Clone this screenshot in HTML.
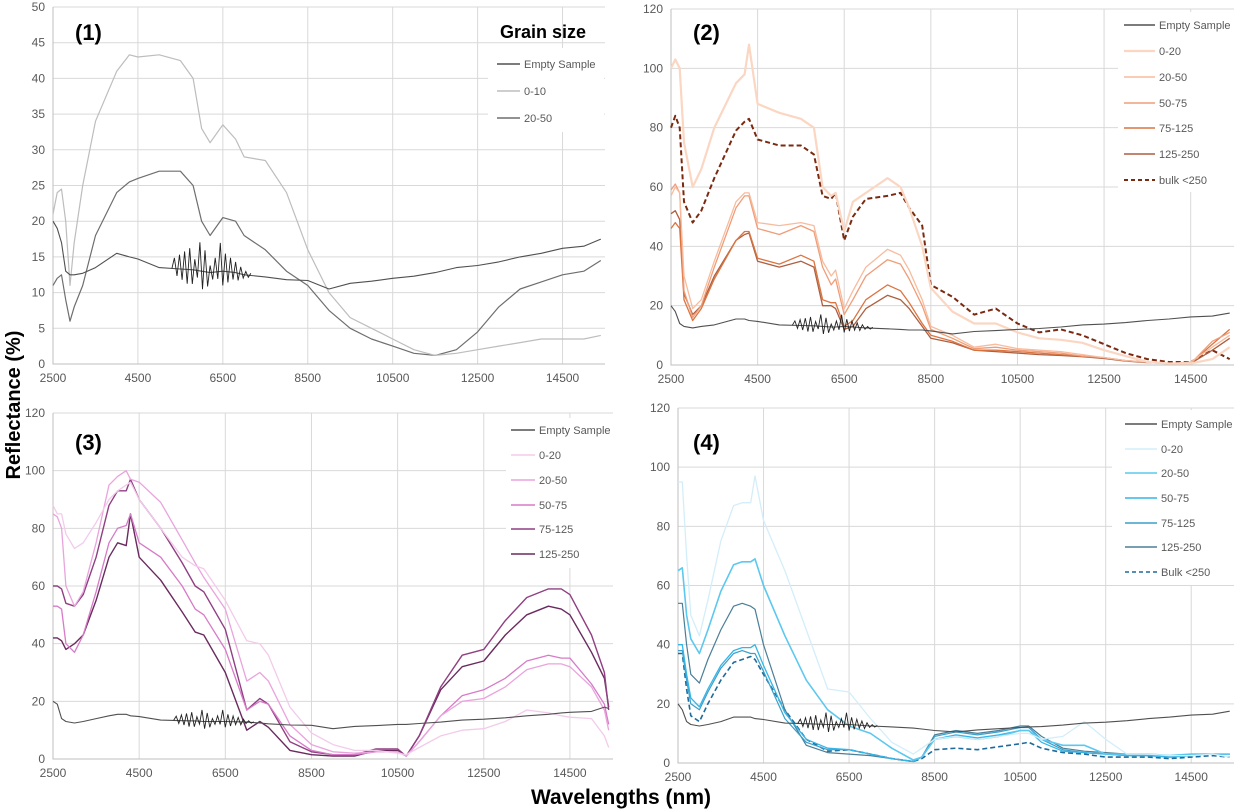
<!DOCTYPE html>
<html><head><meta charset="utf-8"><style>
html,body{margin:0;padding:0;background:#fff;width:1242px;height:810px;overflow:hidden}
svg{display:block;font-family:"Liberation Sans",sans-serif}
</style></head><body>
<svg id="chart" width="1242" height="810" viewBox="0 0 1242 810">
<text x="0" y="0" transform="translate(20,405) rotate(-90)" text-anchor="middle" font-size="20" font-weight="bold" fill="#000">Reflectance (%)</text>
<text x="621" y="804" text-anchor="middle" font-size="21" font-weight="bold" fill="#000">Wavelengths (nm)</text>
</svg>
<script>
// ---------- DATA ----------
const xTicks=[2500,4500,6500,8500,10500,12500,14500];
const noiseOffsetX=[5300,5360,5420,5480,5540,5600,5660,5720,5780,5840,5900,5960,6020,6080,6140,6200,6260,6320,6380,6440,6500,6560,6620,6680,6740,6800,6860,6920,6980,7040,7100,7160];
const noiseOffset=[0,1.5,-1,2,-1.5,2.5,-2,3,-2,1.5,-1,4,-2.5,3,-2,1,-1,2,-1,4,-2,2.5,-1.5,2,-1,1.5,-1,1,-0.5,0.5,-0.3,0.3];

const p1X=[2500,2600,2700,2800,2900,3000,3200,3500,4000,4300,4500,5000,5500,5800,6000,6200,6500,6800,7000,7500,8000,8500,9000,9500,10000,10500,11000,11500,12000,12500,13000,13500,14000,14500,15000,15400];
const p1Empty=[20,19,17,13,12.5,12.5,12.7,13.5,15.5,15,14.7,13.5,13.3,13.2,13,12.8,13,12.8,12.5,12.2,11.8,11.7,10.5,11.3,11.6,12,12.3,12.8,13.5,13.8,14.3,15,15.5,16.2,16.5,17.5];
const p1G0_10=[21,24,24.5,20,11,17,25,34,41,43.3,43,43.3,42.5,40,33,31,33.5,31.5,29,28.5,24,16,10,6.5,5,3.5,2,1.2,1.5,2,2.5,3,3.5,3.5,3.5,4];
const p1G20_50=[11,12,12.5,9,6,8,11,18,24,25.5,26,27,27,25,20,18,20.5,20,18,16,13,11,7.5,5,3.5,2.5,1.5,1.2,2,4.5,8,10.5,11.5,12.5,13,14.5];

const p2X=[2500,2600,2700,2800,3000,3200,3500,4000,4200,4300,4500,5000,5500,5800,6000,6200,6300,6500,6700,7000,7500,7800,8000,8300,8500,9000,9500,10000,10500,11000,11500,12000,12500,13000,13500,14000,14500,15000,15400];
const p2Empty=[20,18,14,13,12.5,13,13.5,15.5,15.5,15,14.7,13.5,13.3,13.2,13,12.8,12.8,13,12.8,12.5,12.2,12,11.8,11.8,11.5,10.5,11.3,11.6,12,12.3,12.8,13.5,13.8,14.3,15,15.5,16.2,16.5,17.5];
const p2G0_20=[100,103,100,75,60,66,80,95,98,108,88,85,83,80,60,57,58,45,55,58,63,60,53,40,26,18,14,14,11,9,8.5,7.5,5,3,1,0.5,0.5,2,6];
const p2G20_50=[57,60,58,30,19,22,35,55,58,58,48,47,48,47,35,30,32,19,25,33,39,37,32,22,13,10,6,7,5.5,5,4.5,3.5,2.5,1.5,1,0.5,1,6,10];
const p2G50_75=[59,61,58,25,16,20,33,53,57,57,46,44,47,45,33,27,29,17,22,30,35.5,34,29,20,12,9,5.5,6,5,4.5,4,3,2.5,1.5,1,0.5,0.5,8,11];
const p2G75_125=[46,48,46,22,15,19,29,42,45,45,36,34,37,35,22,21,21,13,15,22,27,25,21,14,10,8,5,5,4.5,4,3.5,3,2.5,1.5,1,0.5,0.5,7,12];
const p2G125_250=[51,52,49,24,17,20,30,42,44,44.5,35,33,35,33,20,20,19,12,13,19,23.5,22,19,13,9,7.5,5,4.5,4,3.5,3.2,2.8,2.2,1.3,0.8,0.5,0.5,5,9];
const p2Bulk=[80,84,80,55,48,52,63,79,82,83,76,74,74,71,57,56,58,42,50,56,57,58,53,47,27,23,17,19,14,11,12,10,7,4,2,1,1,5,2];

const p3X=[2500,2600,2700,2800,3000,3200,3500,3800,4000,4200,4300,4500,5000,5500,5800,6000,6500,7000,7300,7500,8000,8500,9000,9500,10000,10500,10700,11000,11500,12000,12500,13000,13500,14000,14300,14500,15000,15300,15400];
const p3Empty=[20,19,14,13,12.5,13,14,15,15.5,15.5,15,14.7,13.5,13.3,13.2,13,13,12.8,12.5,12.2,11.8,11.7,10.5,11.3,11.6,12,12,12.3,12.8,13.5,13.8,14.3,15,15.5,16,16.2,16.5,18,17.5];
const p3G0_20=[88,85,85,78,73,75,82,90,93,95,96,90,80,70,67,66,55,41,40,36,18,9,5,3,3,2,1.5,4,8,10,10.5,13,17,16,15,14.5,14,8,4];
const p3G20_50=[85,84,80,60,53,58,75,95,98,100,97,96,89,76,68,63,52,27,30,27,12,5,2.5,2,2.5,2.5,1,6,15,20,21,25,31,33,33,32,25,17,10];
const p3G50_75=[53,53,52,40,37,43,58,75,80,81,85,75,70,60,52,50,38,17,20,19,8,3,1.5,1.5,2.5,2.5,1,6,15,22,24,28,34,36,35,35,26,19,12];
const p3G75_125=[60,60,59,54,53,57,70,88,93,93,97,90,80,68,60,58,45,17,21,19,6,2.5,1.5,1.5,3.5,3.5,1,8,25,36,38,48,56,59,59,57,43,30,17];
const p3G125_250=[42,42,41,38,40,43,55,70,75,74,85,70,62,51,44,43,30,10,13,11,3,1.5,1,1,3,3,1,8,24,32,34,43,50,53,52,50,37,28,18];

const p4X=[2500,2600,2700,2800,3000,3200,3500,3800,4000,4200,4300,4500,5000,5500,6000,6500,7000,7500,8000,8200,8500,9000,9500,10000,10500,10700,11000,11500,12000,12500,13000,13500,14000,14500,15000,15400];
const p4Empty=[20,18,14,13,12.5,13,14,15.5,15.5,15.5,15,14.7,13.5,13.3,13,13,12.5,12.2,11.8,11.5,11,10.5,11.2,11.6,12,12.2,12.3,12.8,13.5,13.8,14.3,15,15.5,16.2,16.5,17.5];
const p4G0_20=[95,95,70,50,43,55,75,87,88,88,97,82,65,45,25,24,15,7,3,5,8,9,8,9,10,10,8,9,14,8,3,3,2.5,2.5,3,2];
const p4G20_50=[65,66,50,42,37,45,58,67,68,68,69,60,43,28,18,12.5,10,5,1,2,8,9,8,9,11,11,8,6,6,3,3,3,2.5,3,3,3];
const p4G50_75=[40,40,30,22,19,25,33,38,39,39,40,33,17,8,5,4.5,3,1.5,0.5,2,8,9.5,8.5,9.5,11,11,7,4,3.5,3,2.5,2.5,2,2.5,3,3];
const p4G75_125=[38,38,28,20,18,24,32,37,38,37,37,31,15,7,4.5,4.5,3,1.5,0.5,2,9,10.5,9.5,10.5,12,12,8,4.5,3.5,3,2.5,2.5,2,2.5,3,3];
const p4G125_250=[54,54,40,30,27,35,45,53,54,53,52,40,18,6,3.5,3,2.5,1.5,0.5,2,9.5,11,10,11,12.5,12.5,9,5,4,3.5,3,2.5,2.5,2.5,3,3];
const p4Bulk=[37,37,25,16,14,20,28,34,35,36,35,30,18,8,4,4.5,3,1.5,0.5,1.5,4.5,5,4.5,5.5,6.5,7,5,3.5,3,2,2,2,1.5,2,2.5,2];

// ---------- RENDER ----------
const svg=document.getElementById('chart');
const NS='http://www.w3.org/2000/svg';
function mk(tag,attrs,parent){const e=document.createElementNS(NS,tag);for(const k in attrs)e.setAttribute(k,attrs[k]);(parent||svg).appendChild(e);return e;}
function interp(xs,ys,x){for(let i=0;i<xs.length-1;i++){if(x>=xs[i]&&x<=xs[i+1]){const t=(x-xs[i])/(xs[i+1]-xs[i]);return ys[i]+t*(ys[i+1]-ys[i]);}}return ys[ys.length-1];}

const panels=[
 {id:'1',L:53,R:605,T:7,B:364,ymax:50,ystep:5,X:p1X,label:[75,40],title:true,
  leg:{box:[488,48,116,84],lx1:497,lx2:520,tx:524,ys:[64,91,118]},
  series:[
   {n:'Empty Sample',y:p1Empty,c:'#505050',w:1.1,empty:true},
   {n:'0-10',y:p1G0_10,c:'#bdbdbd',w:1.2},
   {n:'20-50',y:p1G20_50,c:'#6e6e6e',w:1.2}]},
 {id:'2',L:671,R:1234,T:9,B:365,ymax:120,ystep:20,X:p2X,label:[693,40],
  leg:{box:[1118,12,120,180],lx1:1124,lx2:1155,tx:1159,ys:[25,51,77,103,128,154,180]},
  series:[
   {n:'Empty Sample',y:p2Empty,c:'#505050',w:1.1,empty:true},
   {n:'0-20',y:p2G0_20,c:'#fbd6c2',w:2.2},
   {n:'20-50',y:p2G20_50,c:'#f8bb9d',w:1.3},
   {n:'50-75',y:p2G50_75,c:'#ef9d78',w:1.3},
   {n:'75-125',y:p2G75_125,c:'#dc7440',w:1.3},
   {n:'125-250',y:p2G125_250,c:'#ad5f40',w:1.3},
   {n:'bulk <250',y:p2Bulk,c:'#7a2a10',w:2,dash:'5,3'}]},
 {id:'3',L:53,R:613,T:413,B:759,ymax:120,ystep:20,X:p3X,label:[75,450],
  leg:{box:[506,418,108,150],lx1:511,lx2:535,tx:539,ys:[430,455,480,505,529,554]},
  series:[
   {n:'Empty Sample',y:p3Empty,c:'#505050',w:1.1,empty:true},
   {n:'0-20',y:p3G0_20,c:'#f3cbea',w:1.3},
   {n:'20-50',y:p3G20_50,c:'#e9a4dd',w:1.3},
   {n:'50-75',y:p3G50_75,c:'#d77bc8',w:1.3},
   {n:'75-125',y:p3G75_125,c:'#8f3f82',w:1.4},
   {n:'125-250',y:p3G125_250,c:'#6a2a5e',w:1.4}]},
 {id:'4',L:678,R:1234,T:408,B:763,ymax:120,ystep:20,X:p4X,label:[693,450],
  leg:{box:[1112,410,124,175],lx1:1125,lx2:1157,tx:1161,ys:[424,449,473,498,523,547,572]},
  series:[
   {n:'Empty Sample',y:p4Empty,c:'#505050',w:1.1,empty:true},
   {n:'0-20',y:p4G0_20,c:'#d3eefa',w:1.3},
   {n:'20-50',y:p4G20_50,c:'#5cc8ef',w:1.6},
   {n:'50-75',y:p4G50_75,c:'#35b5e6',w:1.3},
   {n:'75-125',y:p4G75_125,c:'#3c9fc9',w:1.2},
   {n:'125-250',y:p4G125_250,c:'#4b7e97',w:1.2},
   {n:'Bulk <250',y:p4Bulk,c:'#1d6b9b',w:1.6,dash:'5,3'}]}
];

panels.forEach(p=>{
  const g=mk('g',{});
  
  
  const sx=v=>p.L+(v-2500)/13000*(p.R-p.L);
  const sy=v=>p.B-v/p.ymax*(p.B-p.T);
  // grid
  for(let v=p.ystep;v<=p.ymax;v+=p.ystep){
    const l=mk('line',{x1:p.L,x2:p.R,y1:sy(v),y2:sy(v),stroke:'#d9d9d9','stroke-width':1},g);
    
    
  }
  xTicks.forEach(v=>{
    if(v===2500)return;
    const l=mk('line',{x1:sx(v),x2:sx(v),y1:p.T,y2:p.B,stroke:'#d9d9d9','stroke-width':1},g);
    
    
  });
  const ax=mk('path',{d:`M${p.L} ${p.T}V${p.B}H${p.R}`,fill:'none',stroke:'#bfbfbf','stroke-width':1},g);
  
  
  for(let v=0;v<=p.ymax;v+=p.ystep){
    const t=mk('text',{x:p.L-8,y:sy(v)+4,'text-anchor':'end','font-size':12,fill:'#595959'},g);
    t.textContent=v;
    
    
  }
  xTicks.forEach(v=>{
    const t=mk('text',{x:sx(v),y:p.B+18,'text-anchor':'middle','font-size':12,fill:'#595959'},g);
    t.textContent=v;
    
    
  });
  // series (empty first drawn last for visibility? draw in order)
  p.series.slice().reverse().forEach(s=>{
    let d='';
    p.X.forEach((x,i)=>{d+=(i?'L':'M')+sx(x).toFixed(1)+' '+sy(s.y[i]).toFixed(1);});
    const path=mk('path',{d:d,fill:'none',stroke:s.c,'stroke-width':s.w,'stroke-linejoin':'round'},g);
    if(s.dash)path.setAttribute('stroke-dasharray',s.dash);
    
    
    if(s.empty){
      let nd='';
      noiseOffsetX.forEach((x,i)=>{const base=interp(p.X,s.y,x);nd+=(i?'L':'M')+sx(x).toFixed(1)+' '+sy(base+noiseOffset[i]).toFixed(1);});
      const np=mk('path',{d:nd,fill:'none',stroke:'#222','stroke-width':0.9},g);
      
      
    }
  });
  // legend
  const lg=mk('g',{},g);
  
  
  const b=p.leg.box;
  mk('rect',{x:b[0],y:b[1],width:b[2],height:b[3],fill:'#fff'},lg);
  p.series.forEach((s,i)=>{
    const yy=p.leg.ys[i];
    const ln=mk('line',{x1:p.leg.lx1,x2:p.leg.lx2,y1:yy,y2:yy,stroke:s.c,'stroke-width':Math.max(s.w,1.4)},lg);
    if(s.dash)ln.setAttribute('stroke-dasharray','4,3');
    
    
    const t=mk('text',{x:p.leg.tx,y:yy+4,'font-size':11,fill:'#595959'},lg);
    t.textContent=s.n;
    
    
  });
  if(p.title){
    const t=mk('text',{x:500,y:38,'font-size':18,'font-weight':'bold',fill:'#000'},g);
    t.textContent='Grain size';
    
    
  }
  const pl=mk('text',{x:p.label[0],y:p.label[1],'font-size':22,'font-weight':'bold',fill:'#000'},g);
  pl.textContent='('+p.id+')';
  
  
});
</script>
</body></html>
